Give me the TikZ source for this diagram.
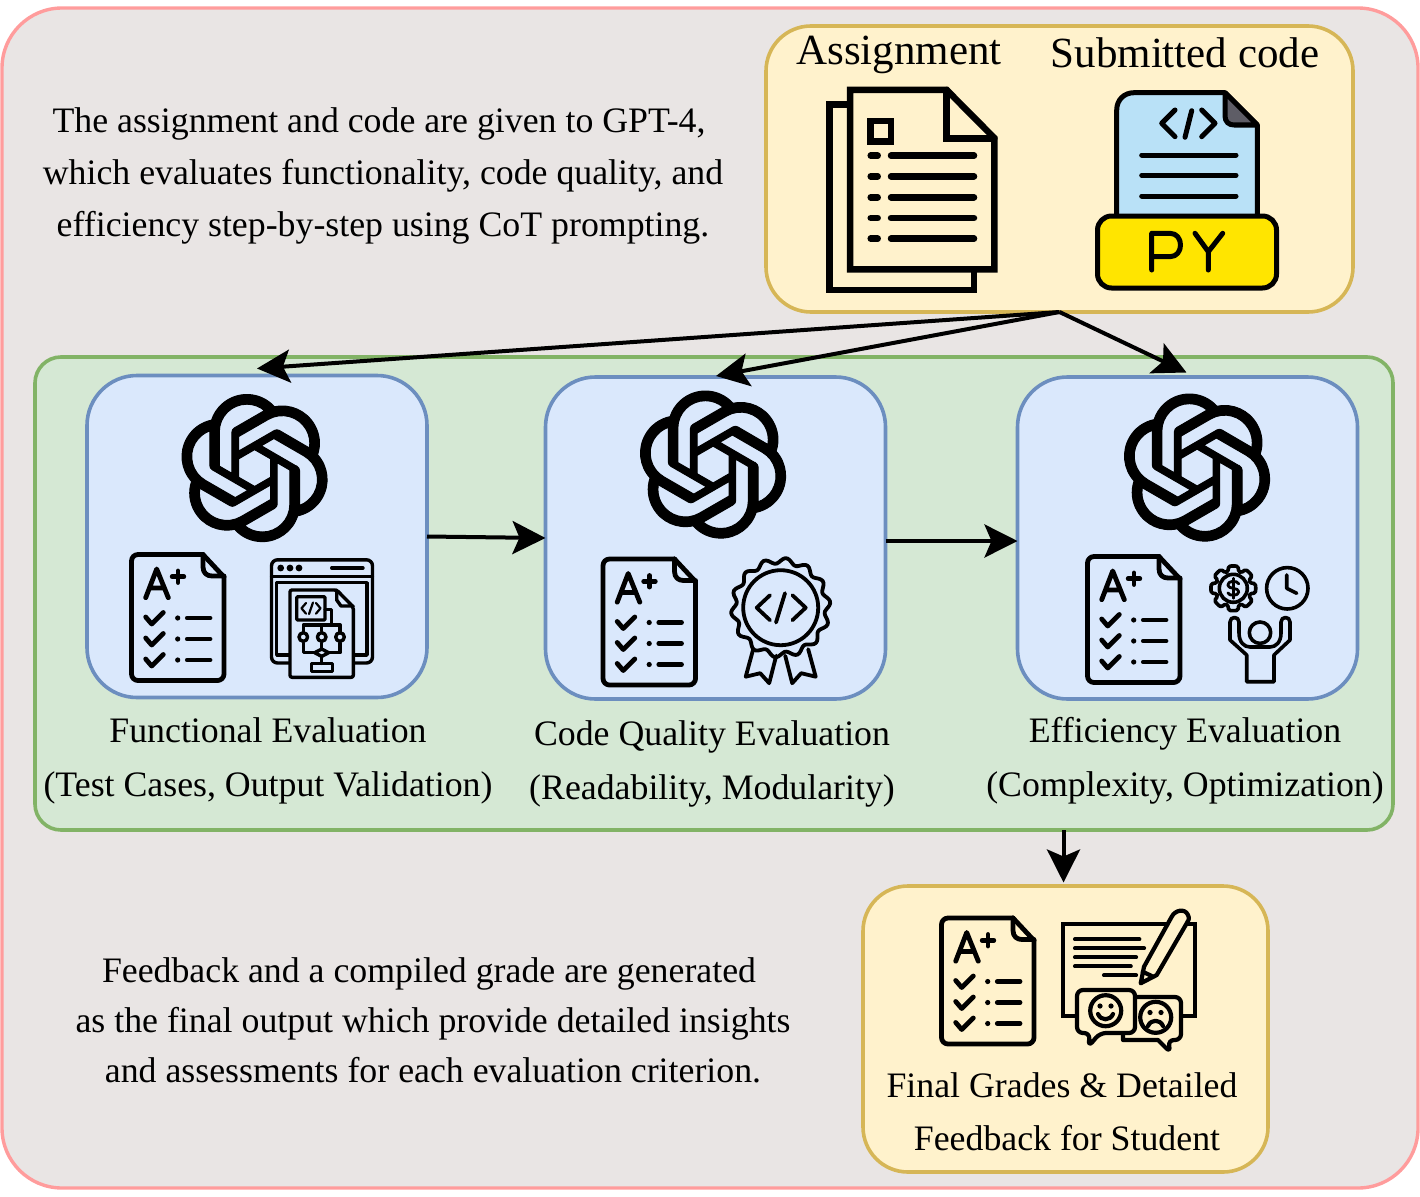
\documentclass[tikz,border=0pt]{standalone}
\usepackage{fontspec}
\setmainfont{Liberation Serif}
\usetikzlibrary{arrows.meta,svg.path,calc}
\definecolor{bgc}{HTML}{E9E5E4}
\definecolor{bgline}{HTML}{FF9C9C}
\definecolor{creamc}{HTML}{FFF2CC}
\definecolor{creamline}{HTML}{D6B656}
\definecolor{greenc}{HTML}{D5E8D4}
\definecolor{greenline}{HTML}{82B366}
\definecolor{bluec}{HTML}{DAE8FC}
\definecolor{blueline}{HTML}{6C8EBF}
\definecolor{pyblue}{HTML}{B9E1F7}
\definecolor{pyfold}{HTML}{5E5D66}
\definecolor{pyyellow}{HTML}{FFE500}
\newcommand{\fs}[2]{\fontsize{#1}{#2}\selectfont}
\tikzset{
  creambox/.style={draw=creamline,fill=creamc,line width=3.6pt,inner sep=0pt,outer sep=0pt,rounded corners=45pt},
  bluebox/.style={draw=blueline,fill=bluec,line width=3.6pt,inner sep=0pt,outer sep=0pt,rounded corners=50pt,minimum width=340pt,minimum height=322pt},
  label/.style={font=\fs{35.8}{#1},inner sep=0pt,align=center,text=black},
  title/.style={font=\fs{43}{43},inner sep=0pt,text=black},
  flow/.style={-{Stealth[length=33pt,width=33pt,inset=7pt]},line width=4pt,black},
  ico/.style={line width=#1,line cap=round,line join=round,black},
  ico/.default=4.5pt,
  logo/.pic={
    \filldraw[black,line width=1pt,even odd rule,shift={(-73.5,-74)},xscale=6.13,yscale=-6.13]
      svg {M22.2819 9.8211a5.9847 5.9847 0 0 0-.5157-4.9108 6.0462 6.0462 0 0 0-6.5098-2.9A6.0651 6.0651 0 0 0 4.9807 4.1818a5.9847 5.9847 0 0 0-3.9977 2.9 6.0462 6.0462 0 0 0 .7427 7.0966 5.98 5.98 0 0 0 .511 4.9107 6.051 6.051 0 0 0 6.5146 2.9001A5.9847 5.9847 0 0 0 13.2599 24a6.0557 6.0557 0 0 0 5.7718-4.2058 5.9894 5.9894 0 0 0 3.9977-2.9001 6.0557 6.0557 0 0 0-.7475-7.0729z M13.2599 22.4292a4.4755 4.4755 0 0 1-2.8764-1.0408l.1419-.0804 4.7783-2.7582a.7948.7948 0 0 0 .3927-.6813v-6.7369l2.02 1.1686a.071.071 0 0 1 .038.052v5.5826a4.504 4.504 0 0 1-4.4945 4.4944z M3.5992 18.3038a4.4708 4.4708 0 0 1-.5346-3.0137l.142.0852 4.783 2.7582a.7712.7712 0 0 0 .7806 0l5.8428-3.3685v2.3324a.0804.0804 0 0 1-.0332.0615L9.74 19.9502a4.4992 4.4992 0 0 1-6.1408-1.6464zM2.3408 7.8956a4.485 4.485 0 0 1 2.3655-1.9728V11.6a.7664.7664 0 0 0 .3879.6765l5.8144 3.3543-2.0201 1.1685a.0757.0757 0 0 1-.071 0l-4.8303-2.7865A4.504 4.504 0 0 1 2.3408 7.872z M18.9371 11.7514L13.1038 8.364 15.1192 7.2a.0757.0757 0 0 1 .071 0l4.8303 2.7913a4.4944 4.4944 0 0 1-.6765 8.1042v-5.6772a.79.79 0 0 0-.407-.667z M20.9478 8.7283l-.142-.0852-4.7735-2.7818a.7759.7759 0 0 0-.7854 0L9.409 9.2297V6.8974a.0662.0662 0 0 1 .0284-.0615l4.8303-2.7866a4.4992 4.4992 0 0 1 6.6802 4.66zM8.3065 12.863l-2.02-1.1638a.0804.0804 0 0 1-.038-.0567V6.0742a4.4992 4.4992 0 0 1 7.3757-3.4537l-.142.0805L8.704 5.459a.7948.7948 0 0 0-.3927.6813z M9.4041 10.4976l2.602-1.4998 2.6069 1.4998v2.9994l-2.5974 1.4997-2.6067-1.4997Z};
  },
  gradedoc/.pic={
    \begin{scope}[ico=4.8pt]
    \draw[rounded corners=6.5pt] (74,2.5) -- (2.5,2.5) -- (2.5,128.5) -- (95,128.5) -- (95,25);
    \draw (74,2.5) -- (95,25);
    \draw (74,2.5) -- (74,15) .. controls (74,21) and (78,24) .. (83,24) -- (95,24);
    \draw (16.7,45.7) -- (27.7,17) -- (39.3,45.7) (20.5,36) -- (35.5,36);
    \draw (49,19) -- (49,30.5) (43.2,24.7) -- (54.8,24.7);
    \foreach \y in {0,21,42}{
      \draw (16.7,\y+65) -- (22.7,\y+72) -- (34.3,\y+60.5);
      \fill (48.7,\y+66) circle[radius=2.6];
      \draw (58.3,\y+66) -- (81,\y+66);
    }
    \end{scope}
  }
}
\begin{document}
\begin{tikzpicture}[x=1pt,y=-1pt]
\useasboundingbox (0,0) rectangle (1420,1196);
% panels
\node[draw=bgline,fill=bgc,line width=3.4pt,rounded corners=60pt,inner sep=0pt,outer sep=0pt,minimum width=1416pt,minimum height=1180pt] (outer) at (710,598) {};
\node[creambox,minimum width=587pt,minimum height=286pt] (input) at (1059.5,169) {};
\node[draw=greenline,fill=greenc,line width=3.6pt,rounded corners=26pt,inner sep=0pt,outer sep=0pt,minimum width=1358pt,minimum height=473pt] (group) at (714,593.5) {};
\node[bluebox] (func) at (257,536.5) {};
\node[bluebox] (qual) at (715.5,538) {};
\node[bluebox] (effi) at (1187.5,538) {};
\node[creambox,minimum width=405pt,minimum height=286pt] (output) at (1065.5,1029) {};
% titles and text
\node[title] (tassign) at (899,55) {Assignment};
\node[title] (tcode) at (1185,53) {Submitted code};
\node[label=52] (intro) at (383,175.5) {\hspace*{-8pt}The assignment and code are given to GPT-4,\\ which evaluates functionality, code quality, and\\ efficiency step-by-step using CoT prompting.};
\node[label=54] (lfunc) at (268,760.5) {Functional Evaluation\\ (Test Cases, Output Validation)};
\node[label=54] (lqual) at (712,764) {Code Quality Evaluation\\ (Readability, Modularity)};
\node[label=54] (leffi) at (1185,760.5) {Efficiency Evaluation\\ (Complexity, Optimization)};
\node[label=50] (outro) at (433,1020) {\hspace*{-8pt}Feedback and a compiled grade are generated\\ as the final output which provide detailed insights\\ and assessments for each evaluation criterion.};
\node[label=53] (lout) at (1067,1111.5) {\hspace*{-10pt}Final Grades \& Detailed\\ Feedback for Student};
% assignment icon
\begin{scope}[ico=6.5pt,line join=miter]
\draw[line cap=butt] (850,104.3) -- (829.3,104.3) -- (829.3,290) -- (974,290) -- (974,269);
\draw (850,90) -- (946.7,90) -- (994.3,138) -- (994.3,269.3) -- (850,269.3) -- cycle;
\draw (946.7,90) -- (946.7,138.3) -- (994.3,138.3);
\draw (870.7,121) rectangle (891,141.7);
\foreach \y in {155.7,176.3,197.3,218,238.7}{
  \draw (870.7,\y) -- (877.7,\y) (891,\y) -- (974,\y);
}
\end{scope}
% python file icon
\begin{scope}[ico=5pt]
\filldraw[fill=pyblue] (1116.7,216.7) -- (1116.7,110) .. controls (1116.7,100) and (1124,92.7) .. (1134,92.7) -- (1225,92.7) -- (1257.3,125) -- (1257.3,216.7) -- cycle;
\filldraw[fill=pyfold] (1225,92.7) -- (1225,116) .. controls (1225,122) and (1229,125) .. (1234,125) -- (1257.3,125) -- cycle;
\draw (1175,110) -- (1161.7,123.3) -- (1175,136.7) (1191.7,110.7) -- (1185,137.3) (1201.7,110) -- (1215,123.3) -- (1201.7,136.7);
\foreach \y in {155,175.3,196} \draw (1141.7,\y) -- (1236,\y);
\filldraw[fill=pyyellow,rounded corners=14pt] (1097.5,216) rectangle (1276.5,288);
\draw (1151.7,270) -- (1151.7,233.3) -- (1170,233.3) .. controls (1184,233.3) and (1184,256.7) .. (1170,256.7) -- (1151.7,256.7);
\draw (1195,233.3) -- (1208.3,251.7) -- (1222.7,233.3) (1208.3,251.7) -- (1208.3,270);
\end{scope}
% logos
\pic at (254.5,468.5) {logo};
\pic at (713,465) {logo};
\pic at (1197,468) {logo};
% grade documents
\pic at (129,552) {gradedoc};
\pic at (600.5,556.5) {gradedoc};
\pic at (1085,554) {gradedoc};
\pic at (939,915.5) {gradedoc};
% flowchart window icon
\begin{scope}[ico=3.4pt]
\draw[rounded corners=6pt] (290,663) -- (271.5,663) -- (271.5,559.8) -- (372.5,559.8) -- (372.5,663) -- (353.3,663);
\draw (271.5,576.7) -- (372.5,576.7);
\foreach \x in {280.7,290,299} \fill (\x,568) circle[radius=3.4];
\draw (331.7,568) -- (363,568);
\draw (290,655) -- (276.7,655) -- (276.7,582.7) -- (367,582.7) -- (367,655) -- (353.3,655);
\filldraw[fill=bluec,rounded corners=2pt] (290,590) -- (336.7,590) -- (353.3,607) -- (353.3,677.3) -- (290,677.3) -- cycle;
\draw (336.7,590) -- (336.7,600) -- (341,606) -- (353.3,606);
\draw[rounded corners=1pt] (296.7,596.7) rectangle (325,620);
\draw[line width=2.2pt] (306,603) -- (301.5,608.3) -- (306,613.7) (316,603) -- (320.5,608.3) -- (316,613.7) (313,602.5) -- (309,614);
\draw (325,609.3) -- (331.7,609.3) -- (331.7,625);
\draw (303.3,636.7) -- (303.3,625) -- (340,625) -- (340,636.7);
\draw (321.7,625) -- (321.7,631);
\draw (303.3,643) -- (303.3,652.7) -- (314.7,652.7) (340,643) -- (340,652.7) -- (328.7,652.7);
\draw (321.7,643) -- (321.7,649);
\foreach \x in {303.3,321.7,340} \draw[fill=bluec] (\x,637) circle[radius=4.3];
\draw[fill=bluec] (314.7,652.7) -- (321.7,649) -- (328.7,652.7) -- (321.7,656.4) -- cycle;
\draw (321.7,656.4) -- (321.7,663.3);
\draw (311.7,663.3) rectangle (332.7,671.7);
\end{scope}
% badge icon
\begin{scope}[ico=3.8pt,shift={(780.7,607.7)}]
\draw[domain=0:360,samples=145,smooth] plot ({(47+2.8*cos(14*\x+90))*cos(\x)},{(47+2.8*cos(14*\x+90))*sin(\x)}) -- cycle;
\draw (0,0) circle[radius=37.5];
\draw (-10.7,-12.5) -- (-24,0) -- (-10.7,12.5) (11.7,-12.5) -- (25,0) -- (11.7,12.5) (4.3,-14.5) -- (-4.7,14.8);
\draw (-27.5,41.5) -- (-35,69) -- (-20.5,65.5) -- (-11.5,75.5) -- (-4.5,48);
\draw (4.5,48) -- (11.5,75.5) -- (20.5,65.5) -- (35,69) -- (27.5,41.5);
\end{scope}
% efficiency icon
\begin{scope}[ico=3.6pt]
\begin{scope}[shift={(1233.3,588.3)}]
\draw[rounded corners=1.5pt] (0:22.5)
  \foreach \a in {0,45,...,315}{ -- (\a+12:22.5) -- (\a+18:17.5) -- (\a+27:17.5) -- (\a+33:22.5) -- (\a+45:22.5)};
\draw (0,0) circle[radius=14];
\draw[line width=2.8pt] (5.5,-4.5) .. controls (4,-8) and (-6,-8) .. (-5.5,-3) .. controls (-5,1) and (5.5,-1) .. (5.5,3.5) .. controls (5.5,8) and (-4.5,8) .. (-5.5,4.5);
\draw[line width=2.8pt] (0,-10) -- (0,10);
\end{scope}
\draw (1287.3,588.3) circle[radius=20.7];
\draw (1286.7,575) -- (1286.7,588.3) -- (1296.7,593.3);
\draw (1260,632.7) circle[radius=10.7];
\draw (1230,622) .. controls (1230,616) and (1239,616) .. (1239,622) -- (1239,633) .. controls (1239,642) and (1244,647) .. (1250,647) -- (1270,647) .. controls (1276,647) and (1281,642) .. (1281,633) -- (1281,622) .. controls (1281,616) and (1290,616) .. (1290,622) -- (1290,640) -- (1274,655) -- (1274,681.7) -- (1246.7,681.7) -- (1246.7,655) -- (1230,640) -- cycle;
\end{scope}
% feedback icon
\begin{scope}[ico=4pt,line join=miter]
\draw (1075,1016) -- (1063.3,1016) -- (1063.3,924.3) -- (1195,924.3) -- (1195,1016) -- (1181,1016);
\draw[line width=4.2pt] (1075,939.3) -- (1139.3,939.3) (1075,948.3) -- (1144,948.3) (1075,957.3) -- (1136,957.3) (1075,966.3) -- (1130.7,966.3) (1104,975.3) -- (1136,975.3);
\end{scope}
\begin{scope}[ico=4.2pt]
\filldraw[fill=creamc] (1140.7,983.3) -- (1144,966.7) -- (1171.7,916.7) .. controls (1175,910) and (1185,908) .. (1188,915) .. controls (1190,919) and (1188,921) .. (1186.7,923.3) -- (1156.7,975) -- cycle;
\draw (1142.7,971.7) -- (1151.7,976);
\filldraw[fill=creamc,rounded corners=6pt] (1123,997) -- (1181,997) -- (1181,1040) -- (1168,1040) -- (1170.5,1052.5) [sharp corners] -- (1158,1040) -- (1123,1040) -- cycle;
\filldraw[fill=creamc,rounded corners=6pt] (1077,990) -- (1135,990) -- (1135,1033) -- (1100,1033) -- (1088.3,1046.7) -- (1090,1033) -- (1077,1033) -- cycle;
\draw (1105.7,1010.7) circle[radius=15.5];
\draw (1155.7,1017.3) circle[radius=15.5];
\fill (1100,1006) circle[radius=2.6] (1111,1006) circle[radius=2.6] (1150,1012.5) circle[radius=2.6] (1161,1012.5) circle[radius=2.6];
\draw (1098,1014) .. controls (1101,1021) and (1110,1021) .. (1113,1014);
\draw (1148,1026) .. controls (1151,1019) and (1160,1019) .. (1163,1026);
\end{scope}
% connectors
\coordinate (tfunc) at ($(func.north)+(0,-7)$);
\coordinate (tqual) at ($(qual.north)+(0.5,-1)$);
\coordinate (teffi) at ($(effi.north)+(-1,-4.5)$);
\draw[flow] (input.south) -- (tfunc);
\draw[flow] (input.south) -- (tqual);
\draw[flow] (input.south) -- (teffi);
\draw[flow] (func.east) -- (qual.west);
\draw[flow] ([yshift=-3pt]qual.east) -- ([yshift=-3pt]effi.west);
\coordinate (toutput) at ($(output.north)+(-2,-3.5)$);
\draw[flow] (toutput |- group.south) -- (toutput);
\end{tikzpicture}
\end{document}
